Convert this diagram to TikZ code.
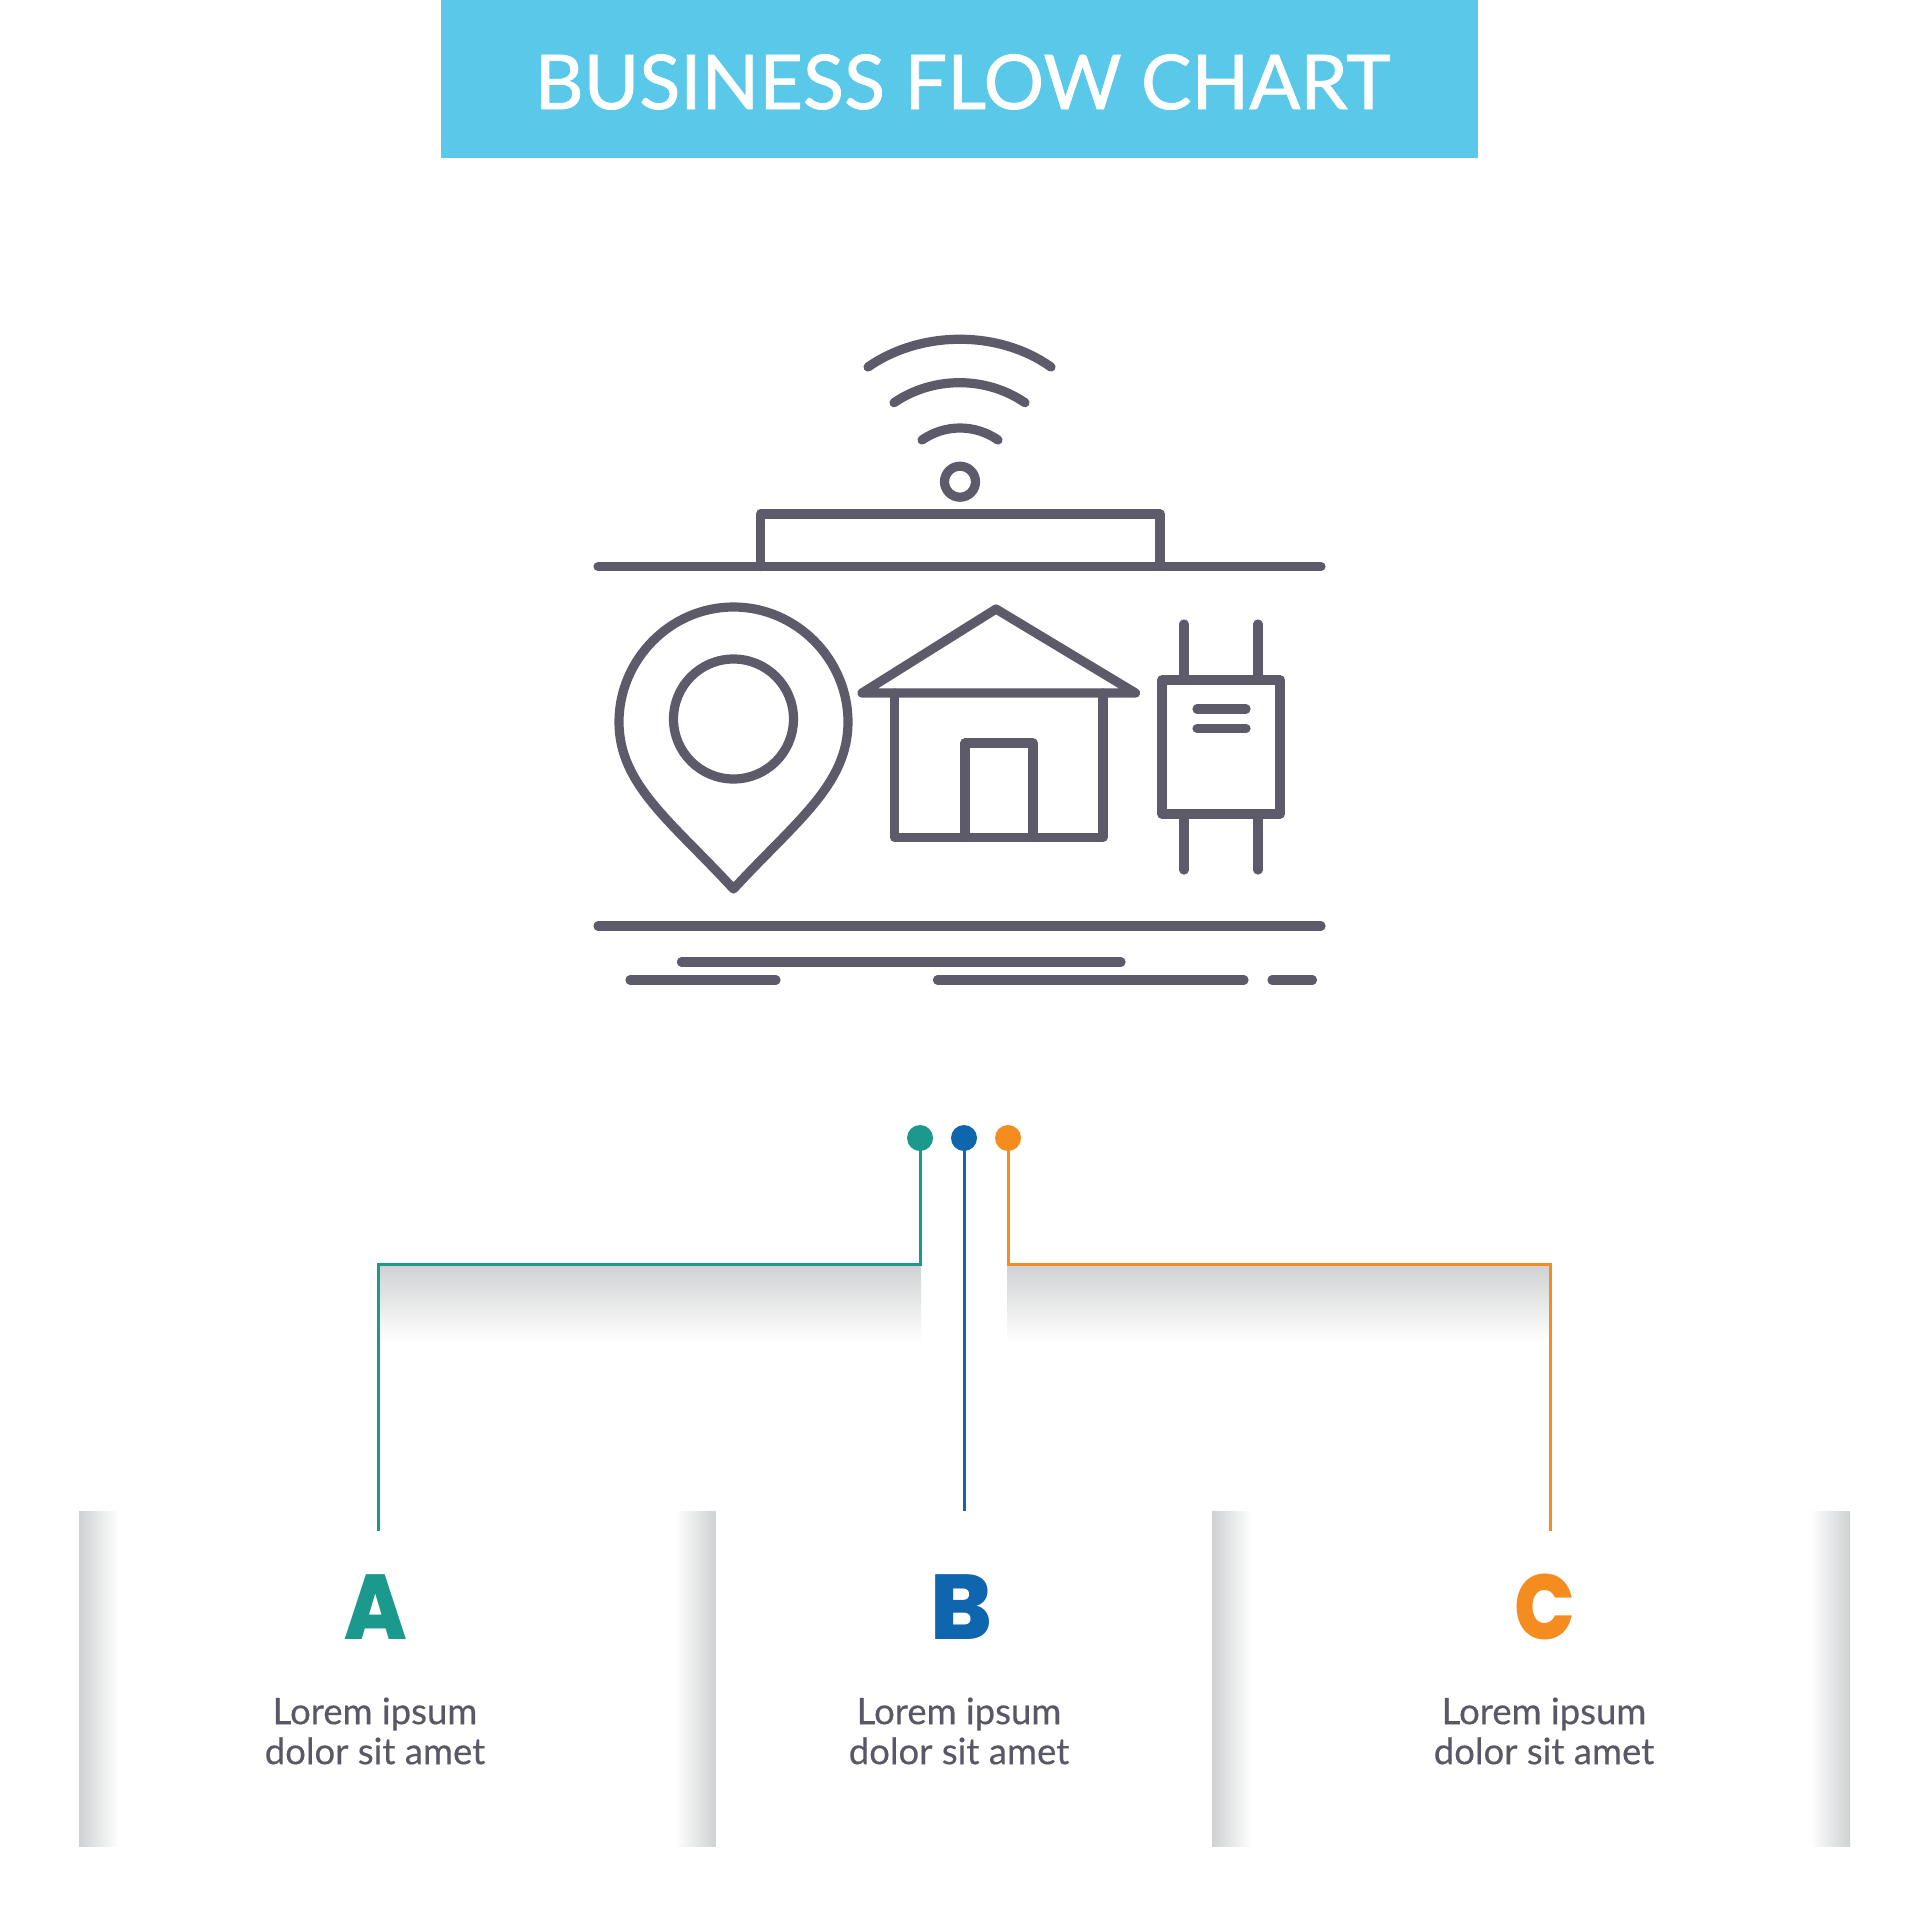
\documentclass[tikz,border=0pt]{standalone}
\usepackage{fontspec}
\setmainfont{Lato}
\newfontfamily\titlefont[FakeBold=1.0]{Lato}
\newfontfamily\bodyfont[FakeBold=0.35]{Lato}
\newfontfamily\letterfont{Poppins}[BoldFont=* ExtraBold]
\definecolor{ink}{HTML}{5D5B6A}
\definecolor{txt}{HTML}{5A5866}
\definecolor{banner}{HTML}{5AC8E8}
\definecolor{teal}{HTML}{1A998C}
\definecolor{blu}{HTML}{1066AE}
\definecolor{org}{HTML}{F58C20}
\definecolor{shadeg}{HTML}{CFD1D2}
\tikzset{
  icon/.style={draw=ink,line width=9.2pt,line cap=round,line join=round},
  wire/.style={line width=3pt,line join=miter},
  pindot/.style={circle,minimum size=26pt,inner sep=0pt,fill=#1},
  bodytext/.style={text=txt,align=center,font=\bodyfont\fontsize{36.5}{40}\selectfont,inner sep=0pt},
  letter/.style={font=\letterfont\bfseries\fontsize{92}{92}\selectfont,inner sep=0pt},
}
\begin{document}
\begin{tikzpicture}[x=1pt,y=-1pt]
\useasboundingbox (0,0) rectangle (1920,1920);
\fill[white] (0,0) rectangle (1920,1920);
% banner
\fill[banner] (441,0) rectangle (1478,158);
\node[text=white,inner sep=0pt,font=\titlefont\fontsize{75.6}{80}\selectfont] (title) at (962.5,82) {BUSINESS FLOW CHART};
% icon
\draw[icon] (868,367) .. controls (921,330) and (999,330) .. (1051,367);
\draw[icon] (894,402.7) .. controls (933,376) and (986,376) .. (1025,402.7);
\draw[icon] (922,440) .. controls (945,424) and (975,424) .. (998,440);
\draw[icon] (960,481.7) circle (15.5);
\draw[icon] (760.5,566.5) -- (760.5,514) -- (1160,514) -- (1160,566.5);
\draw[icon] (598,566.5) -- (1321,566.5);
\draw[icon] (733.5,607) .. controls (670,607) and (619,660) .. (619,722)
  .. controls (619,785) and (672,822) .. (733.5,889)
  .. controls (795,822) and (848,785) .. (848,722)
  .. controls (848,660) and (797,607) .. (733.5,607) -- cycle;
\draw[icon] (733.5,719) circle (60);
\draw[icon] (862,693) -- (996,609) -- (1135.5,693) -- cycle;
\draw[icon] (894.7,693) -- (894.7,837.5) -- (1103,837.5) -- (1103,693);
\draw[icon] (965,837.5) -- (965,743) -- (1033,743) -- (1033,837.5);
\draw[icon] (1162,680) rectangle (1280,814);
\draw[icon] (1184,624) -- (1184,680) (1258,624) -- (1258,680);
\draw[icon] (1184,814) -- (1184,870) (1258,814) -- (1258,870);
\draw[icon] (1197,709) -- (1246,709) (1197,728.5) -- (1246,728.5);
\draw[icon] (598,926) -- (1321,926);
\draw[icon] (681.4,962) -- (1121,962);
\draw[icon] (630,980) -- (776,980) (937.5,980) -- (1244,980) (1272,980) -- (1312.5,980);
% shaded bands
\shade[top color=shadeg,bottom color=white] (378,1264) rectangle (921,1342);
\shade[top color=shadeg,bottom color=white] (1007,1264) rectangle (1550,1342);
% panel shadows
\shade[left color=shadeg,right color=white] (79,1511) rectangle (119,1846);
\shade[left color=white,right color=shadeg] (675,1511) rectangle (715.5,1846);
\shade[left color=shadeg,right color=white] (1212,1511) rectangle (1252,1846);
\shade[left color=white,right color=shadeg] (1810,1511) rectangle (1850,1846);
% dots and connectors
\node[pindot=teal] (dotA) at (920,1138) {};
\node[pindot=blu] (dotB) at (964,1138) {};
\node[pindot=org] (dotC) at (1008,1138) {};
\coordinate (elbowA1) at (920,1264);
\coordinate (elbowA2) at (378,1264);
\coordinate (endA) at (378,1531);
\coordinate (endB) at (964,1511);
\coordinate (elbowC1) at (1008,1264);
\coordinate (elbowC2) at (1550,1264);
\coordinate (endC) at (1550,1531);
\draw[wire,draw=teal] (dotA.center) -- (elbowA1) -- (elbowA2) -- (endA);
\draw[wire,draw=blu] (dotB.center) -- (endB);
\draw[wire,draw=org] (dotC.center) -- (elbowC1) -- (elbowC2) -- (endC);
% letters
\node[letter,text=teal] (letA) at (376,1607) {\scalebox{0.9}[1]{A}};
\node[letter,text=blu] (letB) at (961,1607) {B};
\node[letter,text=org] (letC) at (1545,1607) {\scalebox{0.87}[1]{C}};
% texts
\node[bodytext] (textA) at (375,1731) {Lorem ipsum\\dolor sit amet};
\node[bodytext] (textB) at (959,1731) {Lorem ipsum\\dolor sit amet};
\node[bodytext] (textC) at (1544,1731) {Lorem ipsum\\dolor sit amet};
\end{tikzpicture}
\end{document}
